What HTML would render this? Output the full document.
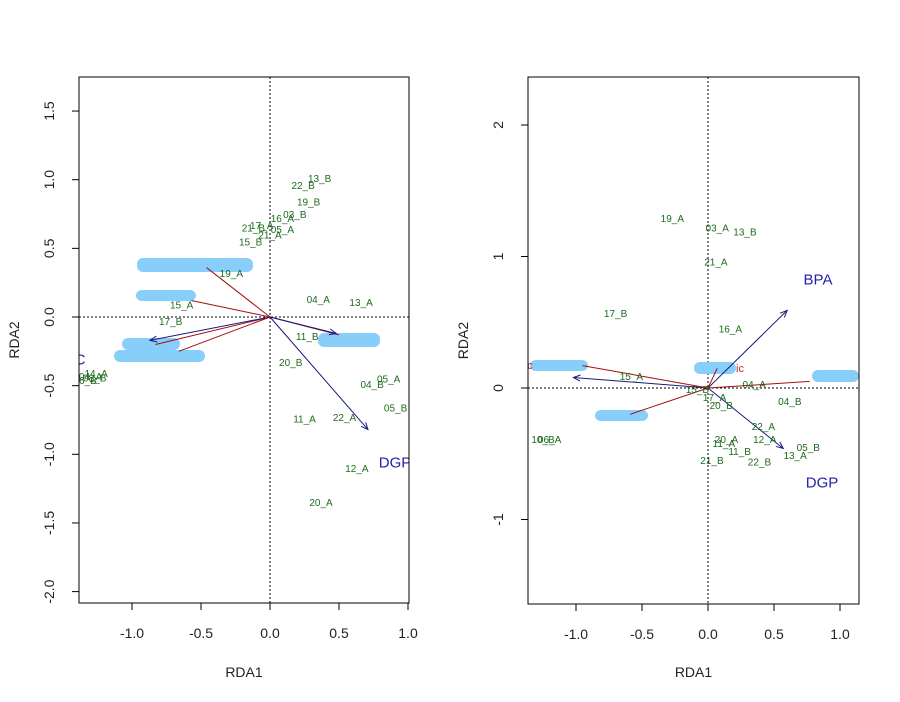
<!DOCTYPE html>
<html><head><meta charset="utf-8"><style>
body{margin:0;background:#fff}
svg{display:block;font-family:"Liberation Sans",sans-serif}
.pt{fill:#1e6b1e;font-size:10px;text-anchor:middle;dominant-baseline:central}
.tk{font-size:14px;fill:#222}
</style></head><body>
<svg id="c" width="900" height="702" viewBox="0 0 900 702">
<defs>
<clipPath id="clipL"><rect x="79" y="77" width="330" height="526"/></clipPath>
<clipPath id="clipR"><rect x="528" y="77" width="331" height="527"/></clipPath>
<marker id="ab" markerWidth="8" markerHeight="8" refX="7" refY="4" orient="auto"><path d="M0,1 L7,4 L0,7" fill="none" stroke="#1a1a80" stroke-width="1"/></marker>
</defs>
</svg>
<script>
// Left panel data
const leftSites = ["13_B","22_B","19_B","03_B","16_A","17_A","21_B","05_A","21_A","15_B","19_A","04_A","13_A","15_A","17_B","11_B","20_B","05_A","04_B","05_B","11_A","22_A","12_A","20_A","14_A","04_A","06_B","08_B"];
const leftX = [0.36,0.24,0.28,0.18,0.09,-0.06,-0.12,0.09,0,-0.14,-0.28,0.35,0.66,-0.64,-0.72,0.27,0.15,0.86,0.74,0.91,0.25,0.54,0.63,0.37,-1.26,-1.30,-1.34,-1.27];
const leftY = [1.0,0.95,0.83,0.74,0.71,0.66,0.64,0.63,0.59,0.54,0.31,0.12,0.10,0.08,-0.04,-0.15,-0.34,-0.46,-0.50,-0.67,-0.75,-0.74,-1.11,-1.36,-0.42,-0.44,-0.47,-0.45];
const leftArrowX = [0.71,-0.46,-0.57,-0.83,-0.87,-0.66,0.50,0.48];
const leftArrowY = [-0.82,0.36,0.12,-0.20,-0.17,-0.25,-0.13,-0.12];
const leftArrowCol = ["blue","red","red","red","blue","red","red","blue"];
const leftXTicks = [-1.0,-0.5,0.0,0.5,1.0];
const leftYTicks = [-2.0,-1.5,-1.0,-0.5,0.0,0.5,1.0,1.5];
// Right panel data
const rightSites = ["19_A","03_A","13_B","21_A","17_B","16_A","15_A","04_A","15_B","17_A","20_B","04_B","22_A","12_A","05_B","13_A","20_A","11_A","11_B","21_B","22_B","10_B","06_A"];
const rightX = [-0.27,0.07,0.28,0.06,-0.70,0.17,-0.58,0.35,-0.08,0.05,0.10,0.62,0.42,0.43,0.76,0.66,0.14,0.12,0.24,0.03,0.39,-1.25,-1.20];
const rightY = [1.28,1.21,1.18,0.95,0.56,0.44,0.08,0.02,-0.02,-0.08,-0.14,-0.11,-0.30,-0.40,-0.46,-0.52,-0.40,-0.43,-0.49,-0.56,-0.57,-0.40,-0.40];
const rightArrowX = [0.60,0.57,-1.02,-0.95,-0.59,0.77,0.07];
const rightArrowY = [0.59,-0.46,0.08,0.17,-0.20,0.05,0.15];
const rightArrowCol = ["blue","blue","blue","red","red","red","red"];
const rightXTicks = [-1.0,-0.5,0.0,0.5,1.0];
const rightYTicks = [-1,0,1,2];

const NS="http://www.w3.org/2000/svg";
const svg=document.getElementById('c');
function mk(t,a,p){const e=document.createElementNS(NS,t);for(const k in a)e.setAttribute(k,a[k]);(p||svg).appendChild(e);return e;}
function panel(o){
  const sx=v=>o.x0+v*o.kx, sy=v=>o.y0-v*o.ky;
  const g=mk('g',{});
  
  
  const cg=mk('g',{'clip-path':'url(#'+o.clip+')'},g);
  mk('line',{x1:o.L,x2:o.R,y1:sy(0),y2:sy(0),stroke:'#000','stroke-dasharray':'2,2'},cg);
  mk('line',{x1:sx(0),x2:sx(0),y1:o.T,y2:o.B,stroke:'#000','stroke-dasharray':'2,2'},cg);
  o.blobs.forEach(b=>{const r=mk('rect',{x:b[0],y:b[1],width:b[2],height:b[3],rx:6,fill:'#87cefa'},cg);
    
    });
  o.ax.forEach((v,i)=>{const blue=o.ac[i]=='blue';
    const l=mk('line',{x1:sx(0),y1:sy(0),x2:sx(v),y2:sy(o.ay[i]),stroke:blue?'#1a1a80':'#a01010','stroke-width':1,'marker-end':blue?'url(#ab)':''},cg);
    
    });
  o.sites.forEach((s,i)=>{const t=mk('text',{x:sx(o.sx[i]),y:sy(o.sy[i]),class:'pt'},cg);t.textContent=s;
    
    });
  o.labels.forEach(l=>{const t=mk('text',{x:l[0],y:l[1],fill:l[3]||'#2222aa','font-size':l[4]||15,'text-anchor':'middle','dominant-baseline':'central'},cg);t.textContent=l[2];
    
    });
  mk('rect',{x:o.L,y:o.T,width:o.R-o.L,height:o.B-o.T,fill:'none',stroke:'#000'},g);
  o.xt.forEach(v=>{mk('line',{x1:sx(v),x2:sx(v),y1:o.B,y2:o.B+7,stroke:'#000'},g);
    const t=mk('text',{x:sx(v),y:o.B+30,class:'tk','text-anchor':'middle','dominant-baseline':'central'},g);t.textContent=v.toFixed(1);
    
    });
  o.yt.forEach(v=>{mk('line',{x1:o.L-7,x2:o.L,y1:sy(v),y2:sy(v),stroke:'#000'},g);
    const t=mk('text',{x:o.L-30,y:sy(v),class:'tk','text-anchor':'middle','dominant-baseline':'central',transform:'rotate(-90 '+(o.L-30)+' '+sy(v)+')'},g);t.textContent=o.yfmt(v);
    
    });
  const xl=mk('text',{x:(o.L+o.R)/2,y:672,class:'tk','text-anchor':'middle','dominant-baseline':'central'},g);xl.textContent='RDA1';
  
  
  const yx=o.L-65,yy=(o.T+o.B)/2;
  const yl=mk('text',{x:yx,y:yy,class:'tk','text-anchor':'middle','dominant-baseline':'central',transform:'rotate(-90 '+yx+' '+yy+')'},g);yl.textContent='RDA2';
  
  
}
panel({name:'left-rda-panel',clip:'clipL',L:79,R:409,T:77,B:603,x0:270,kx:138,y0:317,ky:137.3,
  sites:leftSites,sx:leftX,sy:leftY,ax:leftArrowX,ay:leftArrowY,ac:leftArrowCol,xt:leftXTicks,yt:leftYTicks,yfmt:v=>v.toFixed(1),
  blobs:[[137,258,116,14],[136,290,60,11],[122,338,58,12],[114,350,91,12],[318,333,62,14]],
  labels:[[395,463,'DGP'],[80,360,'C']]});
panel({name:'right-rda-panel',clip:'clipR',L:528,R:859,T:77,B:604,x0:708,kx:132,y0:388,ky:131.5,
  sites:rightSites,sx:rightX,sy:rightY,ax:rightArrowX,ay:rightArrowY,ac:rightArrowCol,xt:rightXTicks,yt:rightYTicks,yfmt:v=>String(v),
  blobs:[[530,360,58,11],[694,362,42,12],[812,370,47,12],[595,410,53,11]],
  labels:[[818,280,'BPA'],[822,483,'DGP'],[740,369,'ic','#c03030',11],[530,366,'c','#c03030',11]]});
</script>
</body></html>
